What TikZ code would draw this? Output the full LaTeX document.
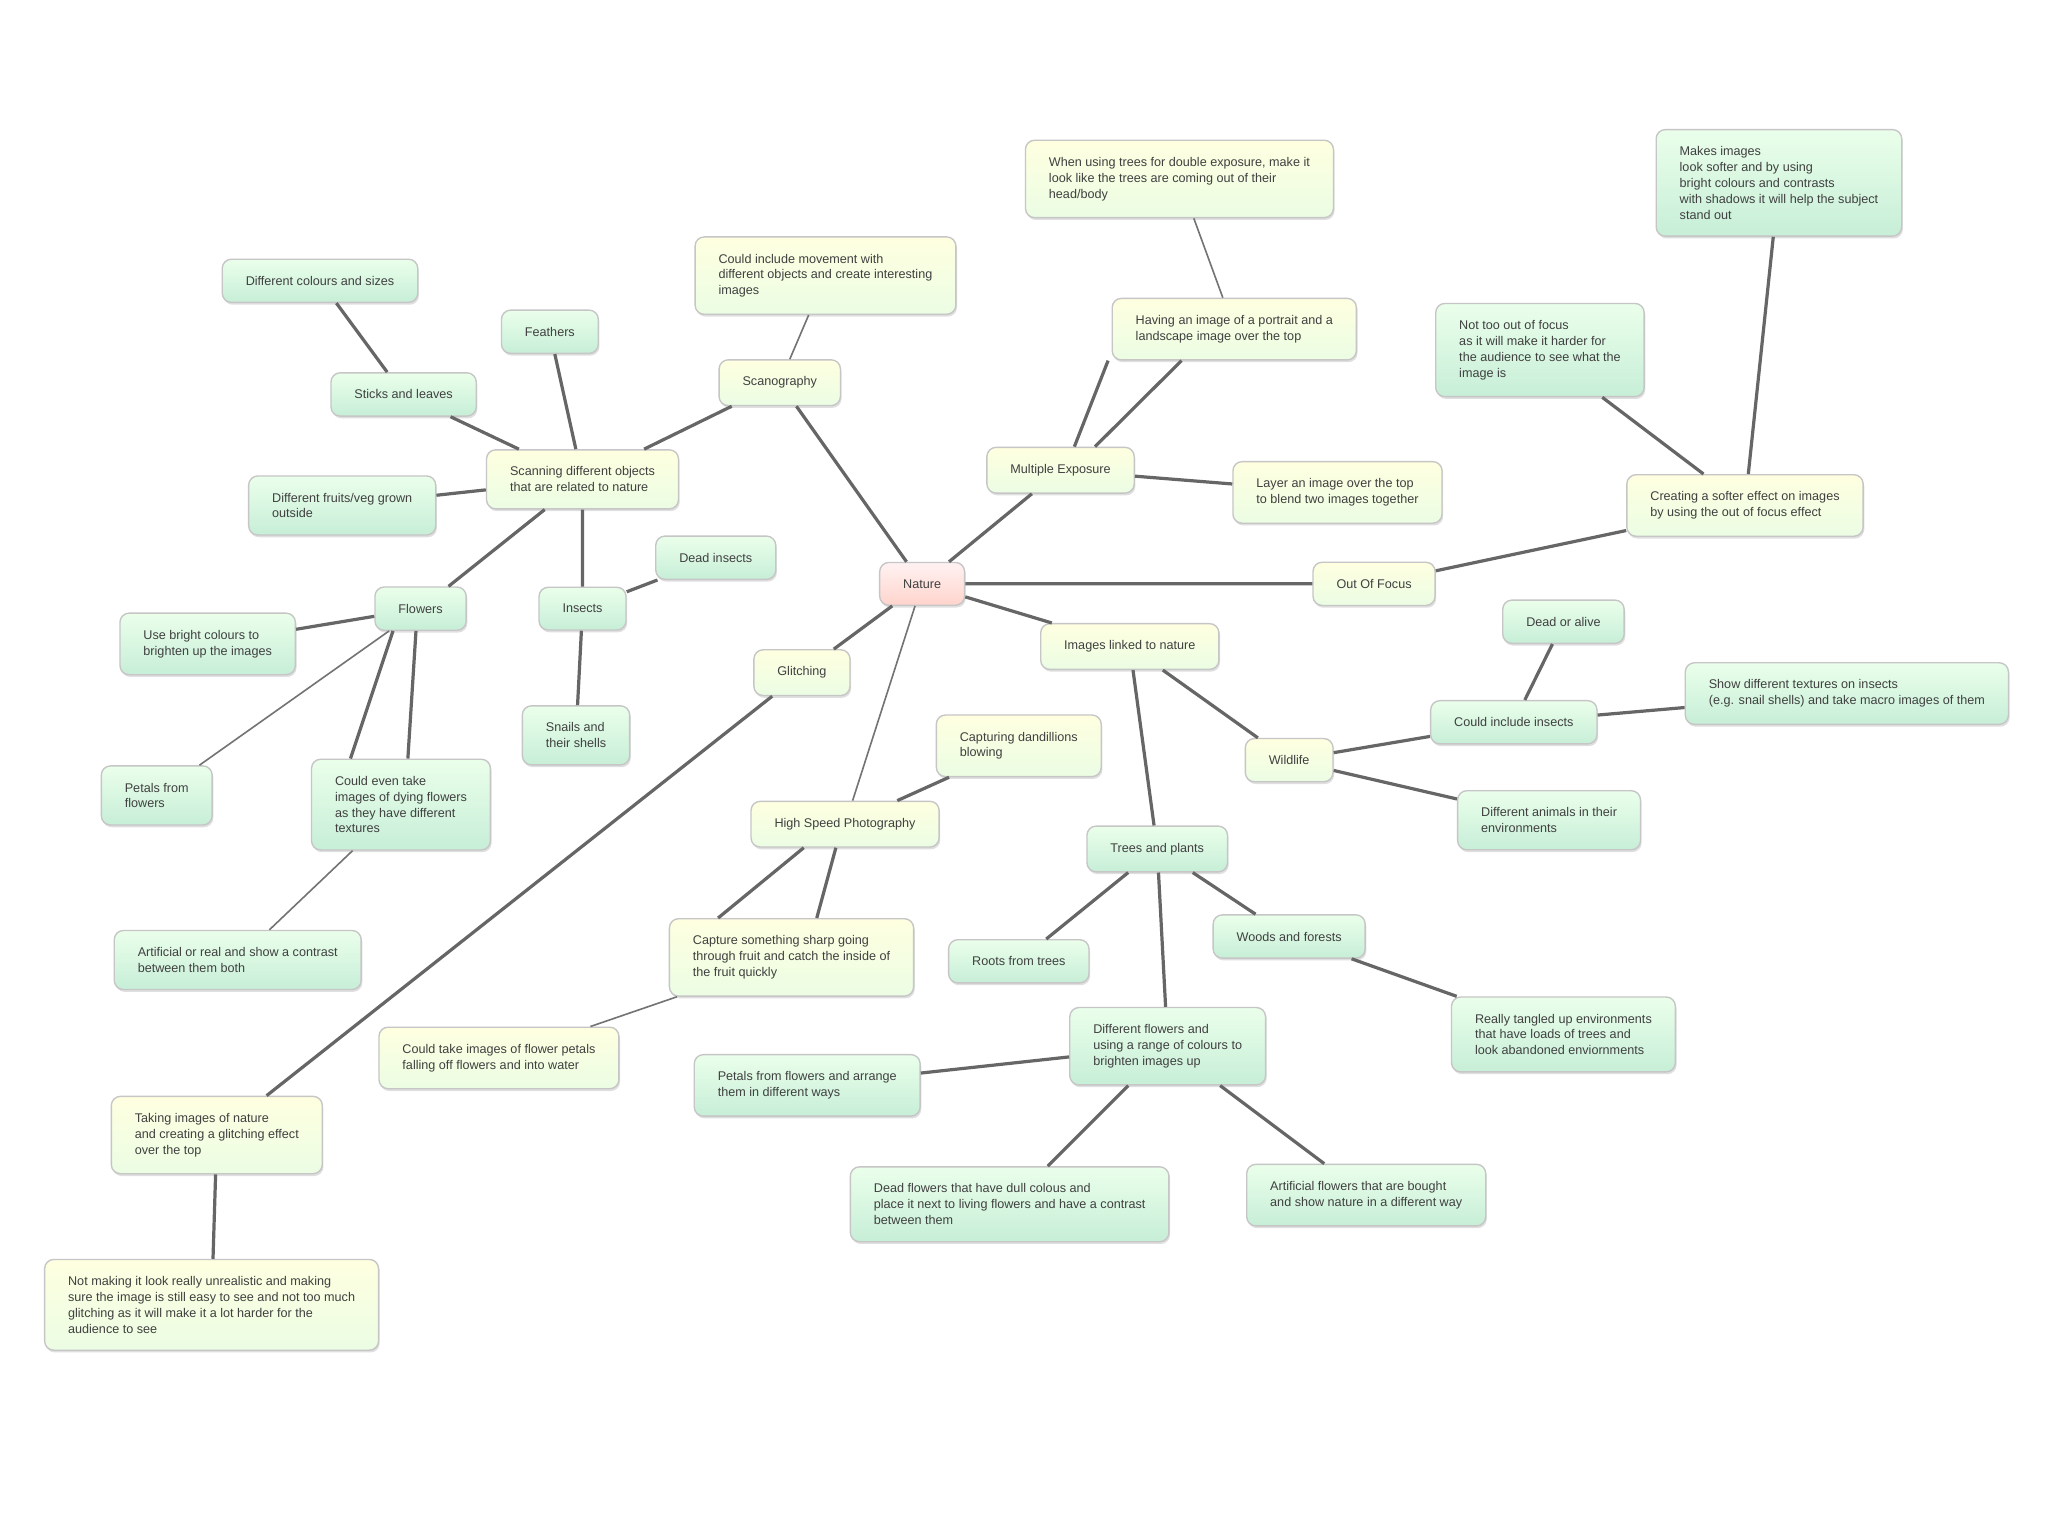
\documentclass[tikz,border=0pt]{standalone}
\usepackage{fontspec}
\setmainfont{Liberation Sans}
\usetikzlibrary{shadows}
\begin{document}
\begin{tikzpicture}[x=0.02cm,y=-0.02cm,
 base/.style={rounded corners=4pt,draw=gray!45,line width=0.6pt,align=left,inner xsep=0.36cm,inner ysep=0.26cm,
   font=\fontsize{5.5}{6.9}\selectfont,text=black!75,drop shadow={opacity=0.25,shadow xshift=0.5pt,shadow yshift=-1pt}},
 gbox/.style={base,top color=green!8!white,bottom color=green!40!teal!22!white},
 ybox/.style={base,top color=yellow!12!white,bottom color=yellow!45!olive!30!green!10!white},
 pbox/.style={base,top color=red!5!white,bottom color=orange!30!red!20!white},
 ln/.style={draw=black!60,line width=1.4pt},
 tn/.style={draw=black!55,line width=0.7pt}]
\useasboundingbox[fill=white] (0,0) rectangle (1568,1176);
\node[pbox] (nature) at (706,447) {Nature};
\node[ybox] (scan) at (597,293) {Scanography};
\node[ybox] (mexp) at (812,360) {Multiple Exposure};
\node[ybox] (oof) at (1052,447) {Out Of Focus};
\node[ybox] (img) at (865,495) {Images linked to nature};
\node[ybox] (glitch) at (614,515) {Glitching};
\node[ybox] (hsp) at (647,631) {High Speed Photography};
\node[ybox] (scanobj) at (446,367) {Scanning different objects\\that are related to nature};
\node[ybox] (could) at (632,211) {Could include movement with\\different objects and create interesting\\images};
\node[gbox] (dcs) at (245,215) {Different colours and sizes};
\node[gbox] (feath) at (421,254) {Feathers};
\node[gbox] (sticks) at (309,302) {Sticks and leaves};
\node[gbox] (fruits) at (262,387) {Different fruits/veg grown\\outside};
\node[gbox] (flowers) at (322,466) {Flowers};
\node[gbox] (insects) at (446,466) {Insects};
\node[gbox] (dead) at (548,427) {Dead insects};
\node[gbox] (snails) at (441,563) {Snails and\\their shells};
\node[gbox] (bright) at (159,493) {Use bright colours to\\brighten up the images};
\node[gbox] (petals) at (120,609) {Petals from\\flowers};
\node[gbox] (dying) at (307,616) {Could even take\\images of dying flowers\\as they have different\\textures};
\node[gbox] (artif) at (182,735) {Artificial or real and show a contrast\\between them both};
\node[ybox] (treesde) at (903,137) {When using trees for double exposure, make it\\look like the trees are coming out of their\\head/body};
\node[ybox] (portrait) at (945,252) {Having an image of a portrait and a\\landscape image over the top};
\node[ybox] (layer) at (1024,377) {Layer an image over the top\\to blend two images together};
\node[gbox] (makes) at (1362,140) {Makes images\\look softer and by using\\bright colours and contrasts\\with shadows it will help the subject\\stand out};
\node[gbox] (notoo) at (1179,268) {Not too out of focus\\as it will make it harder for\\the audience to see what the\\image is};
\node[ybox] (softer) at (1336,387) {Creating a softer effect on images\\by using the out of focus effect};
\node[gbox] (deadalive) at (1197,476) {Dead or alive};
\node[gbox] (couldins) at (1159,553) {Could include insects};
\node[gbox] (show) at (1414,531) {Show different textures on insects\\(e.g. snail shells) and take macro images of them};
\node[ybox] (wildlife) at (987,582) {Wildlife};
\node[gbox] (animals) at (1186,628) {Different animals in their\\environments};
\node[gbox] (trees) at (886,650) {Trees and plants};
\node[gbox] (roots) at (780,736) {Roots from trees};
\node[gbox] (woods) at (987,717) {Woods and forests};
\node[gbox] (tangled) at (1197,792) {Really tangled up environments\\that have loads of trees and\\look abandoned enviornments};
\node[gbox] (diffl) at (894,801) {Different flowers and\\using a range of colours to\\brighten images up};
\node[gbox] (petarr) at (618,831) {Petals from flowers and arrange\\them in different ways};
\node[gbox] (deadfl) at (773,922) {Dead flowers that have dull colous and\\place it next to living flowers and have a contrast\\between them};
\node[gbox] (artfl) at (1046,915) {Artificial flowers that are bought\\and show nature in a different way};
\node[ybox] (capdand) at (780,571) {Capturing dandillions\\blowing};
\node[ybox] (capture) at (606,733) {Capture something sharp going\\through fruit and catch the inside of\\the fruit quickly};
\node[ybox] (cfall) at (382,810) {Could take images of flower petals\\falling off flowers and into water};
\node[ybox] (taking) at (166,869) {Taking images of nature\\and creating a glitching effect\\over the top};
\node[ybox] (notmaking) at (162,999) {Not making it look really unrealistic and making\\sure the image is still easy to see and not too much\\glitching as it will make it a lot harder for the\\audience to see};
\path[ln] (nature) -- (scan) (nature) -- (mexp) (nature) -- (oof) (nature) -- (img)
 (nature) -- (glitch) (scan) -- (scanobj) (scanobj) -- (sticks) (scanobj) -- (feath)
 (scanobj) -- (fruits) (scanobj) -- (flowers) (scanobj) -- (insects) (sticks) -- (dcs)
 (insects) -- (dead) (insects) -- (snails) (flowers) -- (bright)
 ([xshift=-12pt]flowers.south) -- ([xshift=-22pt]dying.north) ([xshift=-2pt]flowers.south) -- ([xshift=3pt]dying.north)
 ([xshift=6pt]mexp.north) -- ([xshift=-55pt]portrait.south) ([xshift=15pt]mexp.north) -- ([xshift=-23pt]portrait.south) (mexp) -- (layer)
 (oof) -- (softer) (softer) -- (notoo) (softer) -- (makes) (img) -- (wildlife) (img) -- (trees)
 (wildlife) -- (couldins) (wildlife) -- (animals) (couldins) -- (deadalive) (couldins) -- (show)
 (trees) -- (roots) (trees) -- (woods) (trees) -- (diffl) (woods) -- (tangled) (diffl) -- (petarr)
 (diffl) -- (deadfl) (diffl) -- (artfl) (hsp) -- (capdand)
 ([xshift=-18pt]hsp.south) -- ([xshift=-32pt]capture.north) ([xshift=-4pt]hsp.south) -- ([xshift=11pt]capture.north)
 (glitch) -- (taking) (taking) -- (notmaking);
\path[tn] (nature) -- (hsp) (portrait) -- (treesde) (scan) -- (could) (flowers) -- (petals) (dying) -- (artif) (capture) -- (cfall);
\end{tikzpicture}
\end{document}
